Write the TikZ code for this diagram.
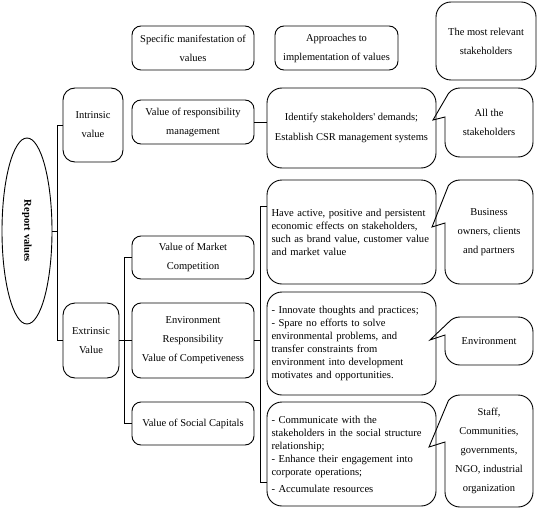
\documentclass[tikz,border=0pt]{standalone}
\usepackage{fontspec}
\setmainfont{Liberation Serif}
\usepackage{graphicx}
\usetikzlibrary{shapes.geometric, calc}

\tikzset{
  every node/.style={font=\fontsize{10.5}{19}\selectfont},
  link/.style={line width=0.9pt},
  headbox/.style={draw, rectangle, rounded corners=9pt, align=center, inner sep=2pt},
  valuebox/.style={draw, rectangle, rounded corners=9pt, align=center, minimum width=122pt, inner sep=2pt},
  waybox/.style={draw, rectangle, rounded corners=15pt, minimum width=169pt, inner sep=4.5pt},
  waytext/.style={text width=160pt, align=left, font=\fontsize{10.6}{13}\selectfont},
  stakebox/.style={rectangle, align=center, minimum width=88pt, inner sep=2pt, outer sep=0pt},
}

\begin{document}
\begin{tikzpicture}[x=1pt, y=-1pt, line width=0.9pt]
    \useasboundingbox (0,0) rectangle (545,508);

    % Report values
    \node[draw, ellipse, minimum width=50pt, minimum height=186pt, inner sep=0pt] (rv) at (27,231) {\rotatebox{-90}{\bfseries Report values}};

    % Intrinsic / extrinsic
    \node[headbox, rounded corners=12pt, minimum width=60pt, minimum height=74pt] (intr) at (93,125) {Intrinsic\\value};
    \node[headbox, rounded corners=12pt, minimum width=56pt, minimum height=75pt] (extr) at (91,340.5) {Extrinsic\\Value};

    % Specific manifestation of values
    \node[valuebox, minimum height=44pt] (hdspec) at (193,48) {Specific manifestation of\\values};
    \node[valuebox, minimum height=44pt] (resp) at (193,122) {Value of responsibility\\management};
    \node[valuebox, minimum height=43pt] (market) at (193,257.5) {Value of Market\\Competition};
    \node[valuebox, minimum height=75pt] (envr) at (193,340.5) {Environment\\Responsibility\\Value of Competiveness};
    \node[valuebox, minimum height=43pt] (social) at (193,423.5) {Value of Social Capitals};

    % Most relevant stakeholders
    \node[headbox, rounded corners=15pt, minimum width=100pt, minimum height=78pt] (hdstake) at (486,41) {The most relevant\\stakeholders};
    \node[stakebox, minimum height=69pt] (allst) at (489,122.5) {All the\\stakeholders};
    \node[stakebox, minimum height=104pt] (owners) at (489,232) {Business\\owners, clients\\and partners};
    \node[stakebox, minimum height=48pt] (envst) at (489,341) {Environment};
    \node[stakebox, minimum height=112pt] (staff) at (489,451) {Staff,\\Communities,\\governments,\\NGO, industrial\\organization};

    % callout outlines
    \draw ([yshift=-29pt]allst.north west) -- ([yshift=15pt]allst.south west) arc[start angle=180, end angle=270, radius=15pt] -- ([xshift=-15pt]allst.south east) arc[start angle=270, end angle=360, radius=15pt] -- ([yshift=-15pt]allst.north east) arc[start angle=0, end angle=90, radius=15pt] -- ([xshift=15pt]allst.north west) arc[start angle=90, end angle=140, radius=15pt] -- ([xshift=-12pt, yshift=-32pt]allst.north west) -- cycle;
    \draw ([yshift=-43pt]owners.north west) -- ([yshift=15pt]owners.south west) arc[start angle=180, end angle=270, radius=15pt] -- ([xshift=-15pt]owners.south east) arc[start angle=270, end angle=360, radius=15pt] -- ([yshift=-15pt]owners.north east) arc[start angle=0, end angle=90, radius=15pt] -- ([xshift=15pt]owners.north west) arc[start angle=90, end angle=140, radius=15pt] -- ([xshift=-13pt, yshift=-47pt]owners.north west) -- cycle;
    \draw ([yshift=-18pt]envst.north west) -- ([yshift=15pt]envst.south west) arc[start angle=180, end angle=270, radius=15pt] -- ([xshift=-15pt]envst.south east) arc[start angle=270, end angle=360, radius=15pt] -- ([yshift=-15pt]envst.north east) arc[start angle=0, end angle=90, radius=15pt] -- ([xshift=15pt]envst.north west) arc[start angle=90, end angle=140, radius=15pt] -- ([xshift=-15pt, yshift=-23pt]envst.north west) -- cycle;
    \draw ([yshift=-47pt]staff.north west) -- ([yshift=15pt]staff.south west) arc[start angle=180, end angle=270, radius=15pt] -- ([xshift=-15pt]staff.south east) arc[start angle=270, end angle=360, radius=15pt] -- ([yshift=-15pt]staff.north east) arc[start angle=0, end angle=90, radius=15pt] -- ([xshift=15pt]staff.north west) arc[start angle=90, end angle=140, radius=15pt] -- ([xshift=-16pt, yshift=-52pt]staff.north west) -- cycle;

    % Approaches to implementation of values
    \node[headbox, minimum width=123pt, minimum height=44pt] (hdappr) at (336.5,48) {Approaches to\\implementation of values};
    \node[waybox, align=center, minimum height=80pt, font=\fontsize{10.5}{20}\selectfont] (idf) at (351.5,128) {Identify stakeholders\textquotesingle{} demands;\\Establish CSR management systems};
    \node[waybox, waytext, minimum height=104pt] (econ) at (351.5,232) {Have active, positive and persistent\\economic effects on stakeholders,\\such as brand value, customer value\\and market value};
    \node[waybox, waytext, minimum height=103pt] (innov) at (351.5,343.5) {- Innovate thoughts and practices;\\- Spare no efforts to solve\\environmental problems, and\\transfer constraints from\\environment into development\\motivates and opportunities.};
    \node[waybox, waytext, minimum height=104pt] (comm) at (351.5,454) {- Communicate with the\\stakeholders in the social structure\\relationship;\\- Enhance their engagement into\\corporate operations;\\[4pt]- Accumulate resources};

    % brackets
    \coordinate (b1) at ($(intr.west)+(-5,0)$);
    \draw[link] (intr.west) -- (b1) |- (extr.west);
    \draw[link] (rv.east) -- (rv.east -| b1);

    \draw[link] (resp.east) -- (resp.east -| idf.west);

    \coordinate (b2) at ($(market.west)+(-7,0)$);
    \draw[link] (market.west) -- (b2) |- (social.west);
    \draw[link] (extr.east) -- (envr.west);

    \coordinate (b3) at ($([yshift=26pt]econ.west)+(-6,0)$);
    \draw[link] ([yshift=26pt]econ.west) -- (b3) |- ([yshift=-28pt]comm.west);
    \draw[link] (envr.east) -- (envr.east -| b3);
\end{tikzpicture}
\end{document}
